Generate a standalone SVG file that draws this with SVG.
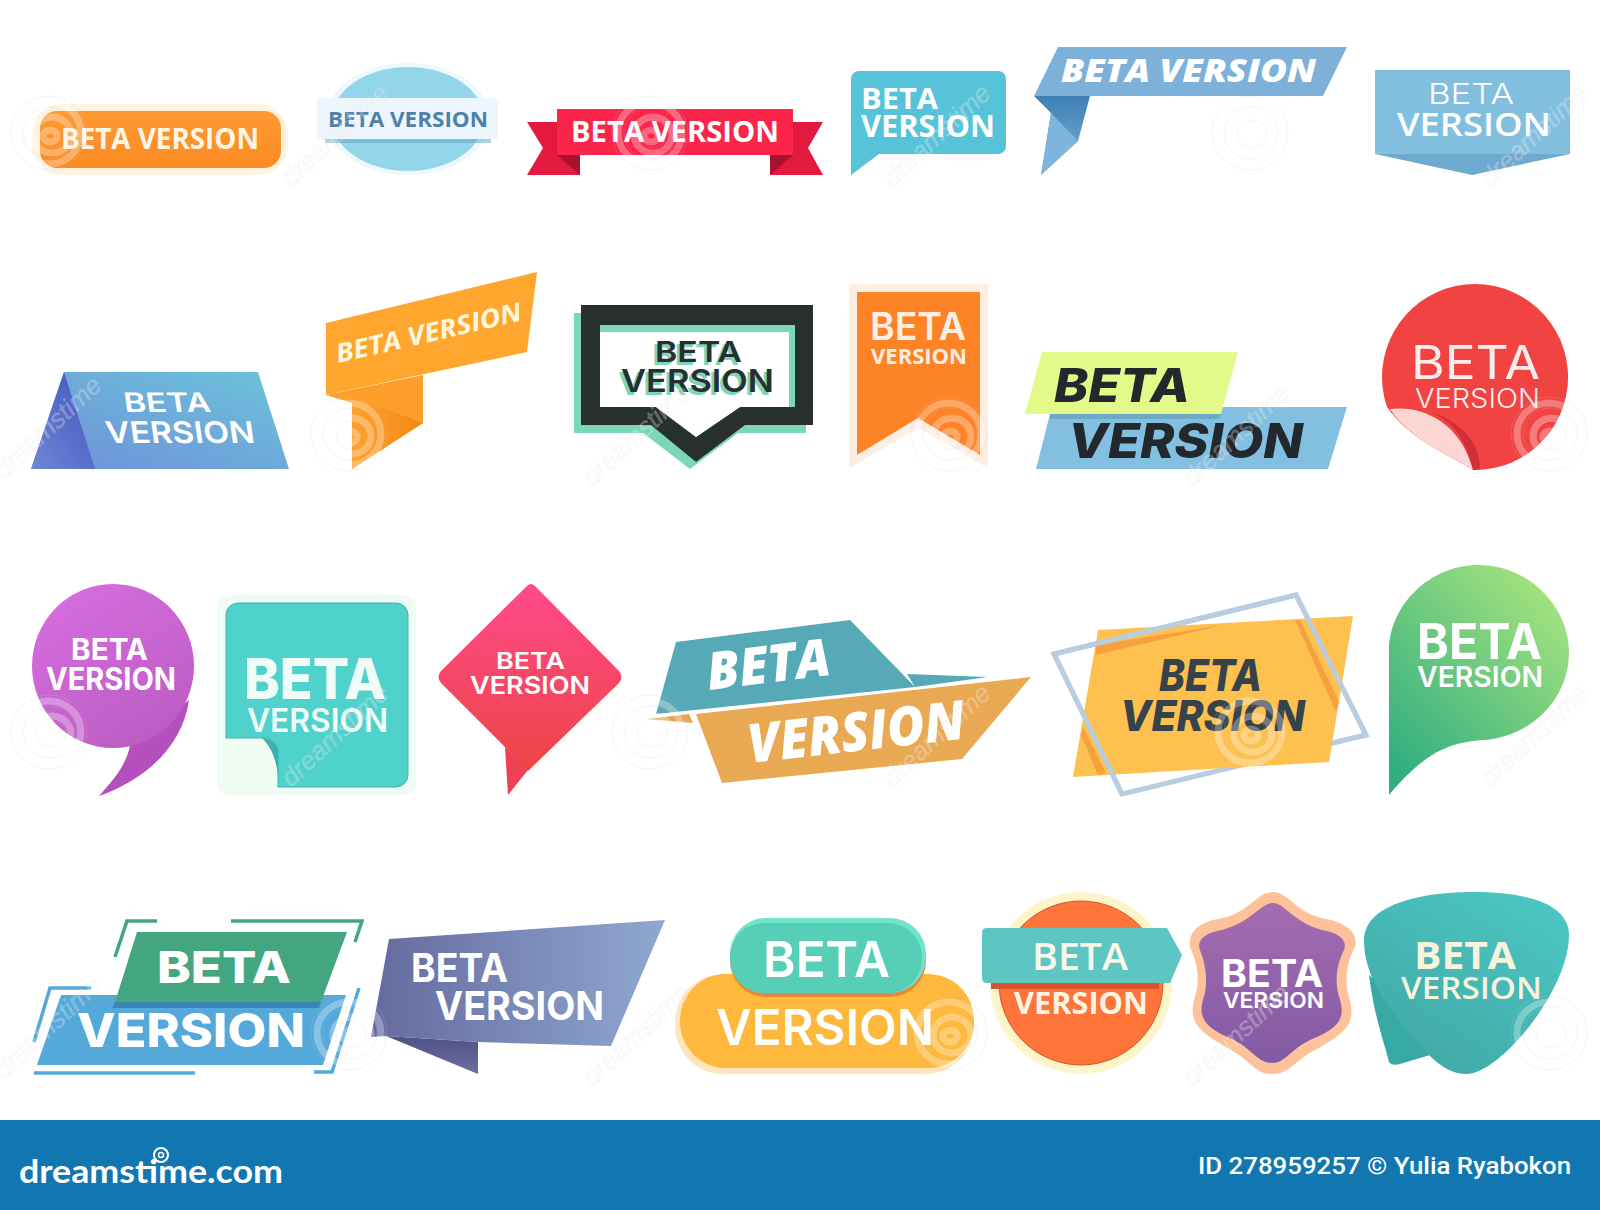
<svg xmlns="http://www.w3.org/2000/svg" xmlns:xlink="http://www.w3.org/1999/xlink" width="1600" height="1210" viewBox="0 0 1600 1210">
<style>
text{font-family:"Open Sans","Liberation Sans",sans-serif;font-weight:700;fill:#fff}
.m{font-family:Inter,"Open Sans",sans-serif;font-weight:600}
.l{font-family:Inter,"Open Sans",sans-serif;font-weight:300}
.x{font-family:Inter,"Open Sans",sans-serif;font-weight:800}
.i{font-style:italic}
.wmt{font-family:"Liberation Sans",sans-serif;font-style:italic;font-weight:400;font-size:26px;fill:#fff;fill-opacity:.25;stroke:#d4d4d4;stroke-opacity:.3;stroke-width:.6}
.sp{fill:none;stroke:#fff;stroke-opacity:.3;stroke-width:7}
.sp2{fill:none;stroke:#c8c8c8;stroke-opacity:.2;stroke-width:1}
</style>
<defs>
<linearGradient id="gOr" x1="0" y1="0" x2="0" y2="1"><stop offset="0" stop-color="#ff9a33"/><stop offset="1" stop-color="#fb8a22"/></linearGradient>
<linearGradient id="gTrap" x1="0" y1="1" x2="1" y2="0"><stop offset="0" stop-color="#6f90da"/><stop offset="1" stop-color="#6cc3da"/></linearGradient>
<linearGradient id="gTrapD" x1="1" y1="0" x2="0" y2="1"><stop offset="0" stop-color="#4354bc"/><stop offset="1" stop-color="#6f87d8"/></linearGradient>
<linearGradient id="gFoldB" x1="0" y1="0" x2="0" y2="1"><stop offset="0" stop-color="#3f7fb4"/><stop offset="1" stop-color="#7fb5dc"/></linearGradient>
<linearGradient id="gFoldO" x1="0" y1="0" x2="1" y2="0"><stop offset="0" stop-color="#fda02a"/><stop offset="1" stop-color="#f58a16"/></linearGradient>
<linearGradient id="gFoldS" x1="0" y1="0" x2="0" y2="1"><stop offset="0" stop-color="#4d5184"/><stop offset="1" stop-color="#6b70a5"/></linearGradient>
<linearGradient id="gPur" x1="0" y1="0" x2="0.6" y2="1"><stop offset="0" stop-color="#d96fe2"/><stop offset="1" stop-color="#bd5dc4"/></linearGradient>
<linearGradient id="gPink" x1="0" y1="0" x2="0" y2="1"><stop offset="0" stop-color="#ff4a8b"/><stop offset="1" stop-color="#ee4444"/></linearGradient>
<linearGradient id="gGreen" x1="0.85" y1="0.05" x2="0.1" y2="0.95"><stop offset="0" stop-color="#a6e37e"/><stop offset="1" stop-color="#2fae80"/></linearGradient>
<linearGradient id="gSlate" x1="0" y1="0" x2="1" y2="0"><stop offset="0" stop-color="#656a9f"/><stop offset="1" stop-color="#8fa8d0"/></linearGradient>
<linearGradient id="gHex" x1="0" y1="0" x2="0" y2="1"><stop offset="0" stop-color="#a56cb0"/><stop offset="1" stop-color="#825aa5"/></linearGradient>
<linearGradient id="gPick" x1="1" y1="0" x2="0.3" y2="1"><stop offset="0" stop-color="#4cc9c6"/><stop offset="1" stop-color="#41a9a6"/></linearGradient>
<g id="swirl">
<ellipse class="sp2" cx="0" cy="0" rx="38" ry="37"/>
<ellipse class="sp2" cx="1" cy="0" rx="27" ry="26"/>
<ellipse class="sp2" cx="2" cy="1" rx="15" ry="14"/>
<ellipse class="sp" cx="0" cy="0" rx="32" ry="31"/>
<ellipse class="sp" cx="3" cy="2" rx="19" ry="18"/>
<ellipse class="sp" cx="1" cy="3" rx="7" ry="6"/>
</g>
</defs>
<rect width="1600" height="1210" fill="#fff"/>

<g id="badge-orange-pill">
<rect x="32" y="104" width="256" height="71" rx="30" fill="#fff3df"/>
<rect x="40" y="111" width="241" height="57" rx="17" fill="url(#gOr)"/>
<text x="61" y="149" font-size="28" textLength="198" lengthAdjust="spacingAndGlyphs" style="fill:#fff6e6">BETA VERSION</text>
</g>

<g id="badge-blue-circle">
<ellipse cx="408" cy="119" rx="82" ry="56" fill="#eef8fc"/>
<ellipse cx="408" cy="119" rx="76" ry="52" fill="#93d5e9"/>
<rect x="325" y="110" width="166" height="33" fill="#5fa6c6" opacity=".5"/>
<rect x="317" y="98" width="181" height="41" rx="3" fill="#edf6fd"/>
<text x="328" y="127" font-size="22" textLength="160" lengthAdjust="spacingAndGlyphs" style="fill:#4f80a8">BETA VERSION</text>
</g>

<g id="badge-red-ribbon">
<polygon points="527,122 557,122 557,155 580,155 580,175 527,175 543,148" fill="#e3193f"/>
<polygon points="823,122 793,122 793,155 770,155 770,175 823,175 808,148" fill="#e3193f"/>
<polygon points="557,155 580,155 580,175" fill="#a9122f"/>
<polygon points="793,155 770,155 770,175" fill="#a9122f"/>
<rect x="557" y="109" width="236" height="46" fill="#fb2449"/>
<text x="571" y="142" font-size="28" textLength="208" lengthAdjust="spacingAndGlyphs">BETA VERSION</text>
</g>

<g id="badge-teal-callout">
<path d="M859,71H998a8,8 0 0 1 8,8V146a8,8 0 0 1-8,8H879L851,175V79a8,8 0 0 1 8-8Z" fill="#57c3d9"/>
<text x="861" y="109" font-size="29" textLength="77" lengthAdjust="spacingAndGlyphs">BETA</text>
<text x="861" y="137" font-size="30" textLength="134" lengthAdjust="spacingAndGlyphs">VERSION</text>
</g>

<g id="badge-blue-ribbon">
<polygon points="1034,96 1090,96 1078,141 1041,175 1051,113" fill="url(#gFoldB)"/>
<polygon points="1051,113 1078,141 1041,175" fill="#7fb5dc"/>
<polygon points="1058,47 1347,47 1323,96 1034,96" fill="#7db1da"/>
<text class="i" x="1061" y="82" font-size="31" textLength="255" lengthAdjust="spacingAndGlyphs" style="font-weight:800">BETA VERSION</text>
</g>

<g id="badge-blue-box">
<polygon points="1375,154 1570,154 1472,175" fill="#6ea9cf"/>
<rect x="1375" y="70" width="195" height="84" fill="#82bfdf"/>
<text class="l" x="1428" y="104" font-size="29" textLength="86" lengthAdjust="spacingAndGlyphs">BETA</text>
<text x="1397" y="136" font-size="32" textLength="154" lengthAdjust="spacingAndGlyphs" style="font-weight:600">VERSION</text>
</g>

<g id="badge-blue-trapezoid">
<polygon points="64,372 258,372 289,469 31,469" fill="url(#gTrap)"/>
<polygon points="64,372 95,469 31,469" fill="url(#gTrapD)"/>
<text class="m" transform="translate(125,412) skewX(8)" font-size="27" textLength="87" lengthAdjust="spacingAndGlyphs">BETA</text>
<text class="m" transform="translate(107,443) skewX(8)" font-size="30" textLength="149" lengthAdjust="spacingAndGlyphs">VERSION</text>
</g>

<g id="badge-orange-ribbon">
<polygon points="326,395 423,375 423,423 352,469 352,403" fill="#fd9e2a"/>
<polygon points="352,403 383,408 423,423 352,469" fill="url(#gFoldO)"/>
<polygon points="326,323 537,272 527,352 326,395" fill="#fea62d"/>
<text class="i" transform="translate(338,363) rotate(-13)" font-size="26" textLength="190" lengthAdjust="spacingAndGlyphs" style="fill:#fff6df">BETA VERSION</text>
</g>

<g id="badge-black-speech">
<polygon points="574,313 806,313 806,433 738,433 690,469 643,433 574,433" fill="#7cd6b8"/>
<polygon points="581,305 813,305 813,425 745,425 696,462 651,425 581,425" fill="#28302f"/>
<polygon points="600,325 795,325 795,407 740,407 696,437 656,407 600,407" fill="#7cd6b8"/>
<polygon points="600,332 789,332 789,407 740,407 696,437 656,407 600,407" fill="#fff"/>
<text class="m" x="652" y="365" font-size="29" textLength="87" lengthAdjust="spacingAndGlyphs" style="fill:#7cd6b8">BETA</text>
<text class="m" x="618" y="395" font-size="31" textLength="153" lengthAdjust="spacingAndGlyphs" style="fill:#7cd6b8">VERSION</text>
<text class="m" x="655" y="362" font-size="29" textLength="87" lengthAdjust="spacingAndGlyphs" style="fill:#28302f">BETA</text>
<text class="m" x="621" y="392" font-size="31" textLength="153" lengthAdjust="spacingAndGlyphs" style="fill:#28302f">VERSION</text>
</g>

<g id="badge-orange-bookmark">
<polygon points="849,284 988,284 988,468 918,428 849,468" fill="#fdeee3"/>
<polygon points="857,292 980,292 980,455 918,418 857,455" fill="#fe8326"/>
<text class="m" x="870" y="340" font-size="38" textLength="96" lengthAdjust="spacingAndGlyphs" style="fill:#fdeee3">BETA</text>
<text x="871" y="364" font-size="22" textLength="96" lengthAdjust="spacingAndGlyphs" style="fill:#fdeee3">VERSION</text>
</g>

<g id="badge-lime-blue">
<polygon points="1050,414 1225,407 1347,407 1328,469 1036,469" fill="#83bfe0"/>
<polygon points="1042,352 1238,352 1221,414 1025,414" fill="#e3f98a"/>
<polygon points="1050,414 1221,414 1219,419 1050,419" fill="#6ea9c8"/>
<text class="x i" x="1054" y="402" font-size="46" textLength="136" lengthAdjust="spacingAndGlyphs" style="fill:#23282d">BETA</text>
<text class="x i" x="1068" y="458" font-size="48" textLength="235" lengthAdjust="spacingAndGlyphs" style="fill:#23282d">VERSION</text>
</g>

<g id="badge-red-sticker">
<path d="M1387,407A93,93 0 1 1 1473,470C1450,455 1410,440 1387,407Z" fill="#f24343"/>
<path d="M1430,412C1458,420 1480,440 1480,469L1473,470C1465,435 1450,420 1430,412Z" fill="#cf2f36"/>
<path d="M1390,409C1420,405 1460,420 1473,470C1450,455 1410,440 1390,409Z" fill="#fbd6d2"/>
<text class="l" x="1411" y="379" font-size="46" textLength="129" lengthAdjust="spacingAndGlyphs" style="font-weight:400;fill:#fdeeee">BETA</text>
<text class="l" x="1415" y="408" font-size="27" textLength="125" lengthAdjust="spacingAndGlyphs" style="fill:#fdeeee">VERSION</text>
</g>

<g id="badge-purple-bubble">
<path d="M189,700C182,750 140,782 99,796C118,775 127,762 130,745Z" fill="#b54fbd"/>
<ellipse cx="113" cy="666" rx="81" ry="82" fill="url(#gPur)"/>
<text class="m" x="71" y="660" font-size="30" textLength="77" lengthAdjust="spacingAndGlyphs" style="font-weight:700">BETA</text>
<text class="m" x="46" y="690" font-size="31" textLength="130" lengthAdjust="spacingAndGlyphs" style="font-weight:700">VERSION</text>
</g>

<g id="badge-teal-square">
<rect x="217" y="595" width="199" height="200" rx="12" fill="#eefcf4"/>
<path d="M238,603H396a12,12 0 0 1 12,12V775a12,12 0 0 1-12,12H278V752C278,745 272,738 265,738H226V615a12,12 0 0 1 12-12Z" fill="#4fd1cc" stroke="#43b3ae" stroke-width="1"/>
<path d="M262,738C272,738 278,745 278,752V775C276,760 272,748 262,738Z" fill="#3cb0aa"/>
<text class="m" x="244" y="699" font-size="57" textLength="142" lengthAdjust="spacingAndGlyphs" style="font-weight:800;fill:#f0fdf6">BETA</text>
<text class="m" x="247" y="732" font-size="32" textLength="141" lengthAdjust="spacingAndGlyphs" style="fill:#f0fdf6">VERSION</text>
</g>

<g id="badge-pink-diamond">
<polygon points="505,747 508,795 528,770" fill="#ee4054"/>
<path d="M526,587Q531,581 536,587L619,671Q624,677 619,683L528,771L505,747L441,683Q436,677 441,671Z" fill="url(#gPink)"/>
<text class="m" x="496" y="669" font-size="23" textLength="69" lengthAdjust="spacingAndGlyphs">BETA</text>
<text class="m" x="470" y="694" font-size="24" textLength="120" lengthAdjust="spacingAndGlyphs">VERSION</text>
</g>

<g id="badge-teal-tan">
<polygon points="907,674 988,677 915,687" fill="#56a9b6"/>
<polygon points="647,719 689,714 693,723" fill="#e3a553"/>
<polygon points="676,642 850,620 915,687 656,714" fill="#56a9b6"/>
<polygon points="696,714 1031,677 962,759 722,783" fill="#e9a953"/>
<text class="i" transform="translate(709,690) rotate(-7)" font-size="52" textLength="124" lengthAdjust="spacingAndGlyphs" style="font-weight:800">BETA</text>
<text class="i" transform="translate(750,763) rotate(-6.5)" font-size="54" textLength="218" lengthAdjust="spacingAndGlyphs" style="font-weight:800">VERSION</text>
</g>

<g id="badge-yellow-frame">
<polygon points="1122,794 1366,735 1296,595 1054,654" fill="none" stroke="#b8cee0" stroke-width="5"/>
<polygon points="1098,630 1353,616 1329,762 1073,777" fill="#fec14f"/>
<polygon points="1096,645 1223,625 1096,655" fill="#f6a03f"/>
<polygon points="1295,620 1300,620 1339,702 1336,712" fill="#f6a03f"/>
<polygon points="1083,727 1106,773 1098,775 1081,735" fill="#f6a03f"/>
<polyline points="1122,794 1054,654 1296,595 1366,735 1332,743" fill="none" stroke="#b8cee0" stroke-width="5"/>
<text class="x i" x="1159" y="691" font-size="44" textLength="103" lengthAdjust="spacingAndGlyphs" style="fill:#37434a">BETA</text>
<text class="x i" x="1120" y="731" font-size="43" textLength="185" lengthAdjust="spacingAndGlyphs" style="fill:#37434a">VERSION</text>
</g>

<g id="badge-green-bubble">
<path d="M1389,795V652C1389,605 1430,565 1478,565C1530,565 1569,608 1569,652C1569,700 1530,737 1484,740C1450,742 1425,752 1389,795Z" fill="url(#gGreen)"/>
<text class="m" x="1417" y="659" font-size="50" textLength="125" lengthAdjust="spacingAndGlyphs" style="font-weight:700">BETA</text>
<text class="m" x="1417" y="687" font-size="29" textLength="126" lengthAdjust="spacingAndGlyphs">VERSION</text>
</g>

<g id="badge-green-blue">
<polygon points="61,995 346,995 323,1065 37,1065" fill="#54a9da"/>
<polygon points="115,1002 321,1002 319,1008 112,1008" fill="#3d85b3"/>
<polygon points="137,932 347,932 321,1002 115,1002" fill="#44a680"/>
<path d="M115,957L127,921H157M231,921H362L355,942" fill="none" stroke="#44a680" stroke-width="3.5"/>
<path d="M91,988H50L34,1042M359,988L332,1072H314M34,1073H195" fill="none" stroke="#54a9da" stroke-width="3.5"/>
<text class="x" x="157" y="983" font-size="44" textLength="134" lengthAdjust="spacingAndGlyphs">BETA</text>
<text class="x" x="77" y="1047" font-size="47" textLength="228" lengthAdjust="spacingAndGlyphs">VERSION</text>
</g>

<g id="badge-slate-ribbon">
<polygon points="386,1036 478,1042 478,1074" fill="url(#gFoldS)"/>
<polygon points="371,1037 389,939 665,920 611,1046 478,1042 386,1036" fill="url(#gSlate)"/>
<text class="m" x="411" y="982" font-size="39" textLength="97" lengthAdjust="spacingAndGlyphs" style="font-weight:700">BETA</text>
<text class="m" x="435" y="1020" font-size="40" textLength="169" lengthAdjust="spacingAndGlyphs" style="font-weight:700">VERSION</text>
</g>

<g id="badge-pills">
<rect x="675" y="974" width="299" height="100" rx="48" fill="#fde6bd"/>
<rect x="680" y="974" width="294" height="94" rx="46" fill="#feb83c"/>
<rect x="730" y="922" width="196" height="75" rx="36" fill="#e58a3a"/>
<rect x="730" y="918" width="196" height="75" rx="36" fill="#70e3cd"/>
<rect x="730" y="923" width="192" height="70" rx="34" fill="#56cfb6"/>
<text class="m" x="763" y="977" font-size="50" textLength="127" lengthAdjust="spacingAndGlyphs">BETA</text>
<text class="m" x="716" y="1045" font-size="50" textLength="218" lengthAdjust="spacingAndGlyphs">VERSION</text>
</g>

<g id="badge-orange-circle">
<circle cx="1081" cy="983" r="91" fill="#fdf4c9"/>
<ellipse cx="1081" cy="983" rx="82" ry="82" fill="#ff7438" stroke="#d25a2a" stroke-width="1"/>
<rect x="991" y="983" width="168" height="6" fill="#d9542a"/>
<path d="M987,928H1167L1182,955L1170,983H987Q982,983 982,978V933Q982,928 987,928Z" fill="#5dc6c2"/>
<text x="1032" y="970" font-size="38" textLength="96" lengthAdjust="spacingAndGlyphs" style="font-weight:600;fill:#f8f7e8">BETA</text>
<text x="1014" y="1014" font-size="30" textLength="134" lengthAdjust="spacingAndGlyphs" style="fill:#fdf4e4">VERSION</text>
</g>

<g id="badge-purple-hex">
<path d="M1273,892C1290,892 1295,915 1331,920C1350,925 1358,935 1355,947C1345,965 1345,985 1349,997C1355,1020 1352,1030 1315,1050C1295,1060 1290,1074 1272,1074C1255,1074 1250,1060 1231,1050C1195,1030 1188,1020 1195,997C1200,980 1198,965 1190,947C1188,935 1195,925 1213,920C1250,915 1255,892 1273,892Z" fill="#fdc29a"/>
<path d="M1273,903C1285,903 1295,925 1327,931C1343,935 1347,943 1344,950C1335,968 1335,985 1340,1000C1345,1018 1340,1028 1310,1040C1290,1050 1285,1063 1272,1063C1258,1063 1253,1050 1234,1040C1205,1028 1198,1018 1203,1000C1208,985 1207,968 1200,950C1197,943 1201,935 1217,931C1250,925 1260,903 1273,903Z" fill="url(#gHex)"/>
<text class="m" x="1221" y="987" font-size="38" textLength="102" lengthAdjust="spacingAndGlyphs" style="font-weight:700">BETA</text>
<text class="m" x="1223" y="1008" font-size="22" textLength="101" lengthAdjust="spacingAndGlyphs">VERSION</text>
</g>

<g id="badge-teal-pick">
<path d="M1369,975C1375,1020 1385,1045 1389,1062Q1392,1066 1400,1064L1430,1055L1400,1000Z" fill="#37a9a5"/>
<path d="M1364,940C1364,905 1420,892 1473,892C1530,892 1569,905 1569,935C1569,990 1500,1074 1466,1074C1445,1074 1428,1055 1415,1040C1385,1005 1364,975 1364,940Z" fill="url(#gPick)"/>
<text x="1414" y="969" font-size="38" textLength="102" lengthAdjust="spacingAndGlyphs" style="fill:#f7f3dc">BETA</text>
<text x="1401" y="999" font-size="30" textLength="141" lengthAdjust="spacingAndGlyphs" style="font-weight:600;fill:#f7f3dc">VERSION</text>
</g>

<g id="watermark">
<use href="#swirl" x="49" y="133"/><use href="#swirl" x="650" y="133"/><use href="#swirl" x="1250" y="133"/>
<use href="#swirl" x="349" y="434"/><use href="#swirl" x="949" y="434"/><use href="#swirl" x="1549" y="434"/>
<use href="#swirl" x="49" y="732"/><use href="#swirl" x="650" y="732"/><use href="#swirl" x="1250" y="732"/>
<use href="#swirl" x="349" y="1033"/><use href="#swirl" x="949" y="1033"/><use href="#swirl" x="1549" y="1033"/>
<text class="wmt" transform="translate(291,188) rotate(-43)">dreamstime</text>
<text class="wmt" transform="translate(893,188) rotate(-43)">dreamstime</text>
<text class="wmt" transform="translate(1490,188) rotate(-43)">dreamstime</text>
<text class="wmt" transform="translate(4,480) rotate(-43)">dreamstime</text>
<text class="wmt" transform="translate(592,488) rotate(-43)">dreamstime</text>
<text class="wmt" transform="translate(1192,488) rotate(-43)">dreamstime</text>
<text class="wmt" transform="translate(291,788) rotate(-43)">dreamstime</text>
<text class="wmt" transform="translate(893,788) rotate(-43)">dreamstime</text>
<text class="wmt" transform="translate(1490,788) rotate(-43)">dreamstime</text>
<text class="wmt" transform="translate(4,1080) rotate(-43)">dreamstime</text>
<text class="wmt" transform="translate(592,1088) rotate(-43)">dreamstime</text>
<text class="wmt" transform="translate(1192,1088) rotate(-43)">dreamstime</text>
</g>

<g id="footer">
<rect y="1120" width="1600" height="90" fill="#1277b1"/>
<circle cx="161" cy="1155" r="7" fill="none" stroke="#fff" stroke-width="2"/>
<circle cx="161" cy="1155" r="2.5" fill="none" stroke="#fff" stroke-width="1.5"/>
<text x="19" y="1183" font-size="32" textLength="264" lengthAdjust="spacingAndGlyphs" style="font-family:Lato,sans-serif;font-weight:700">dreamstime.com</text>
<text x="1198" y="1174" font-size="23" textLength="373" lengthAdjust="spacingAndGlyphs" style="font-family:Roboto,sans-serif;font-weight:500">ID 278959257 © Yulia Ryabokon</text>
</g>
</svg>
